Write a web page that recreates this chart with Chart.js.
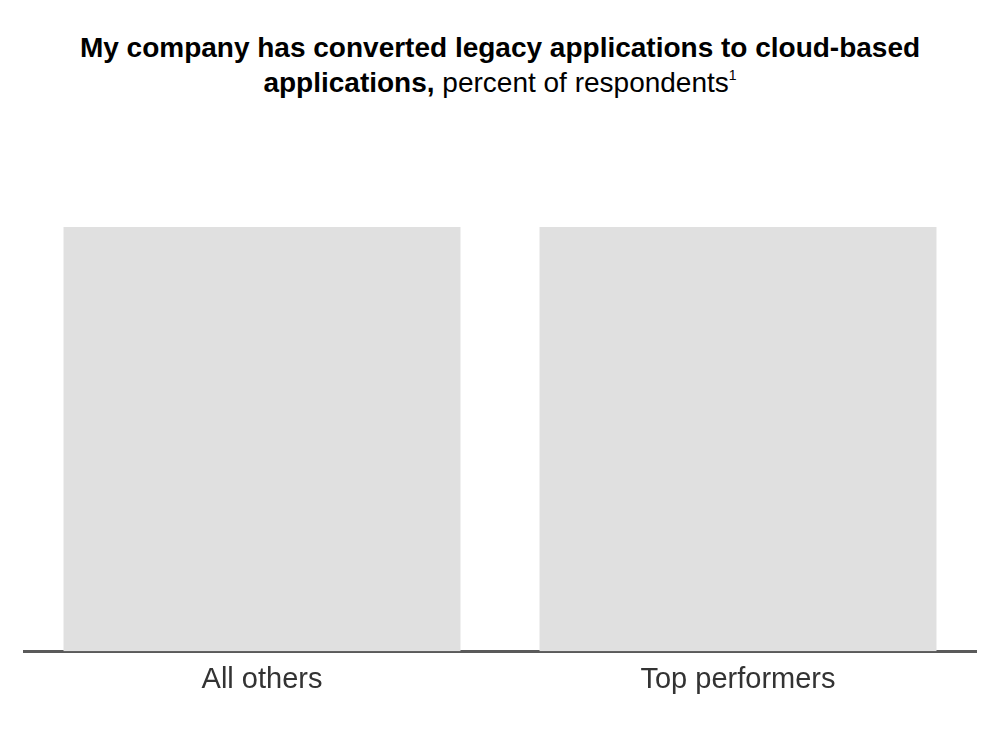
<!DOCTYPE html>
<html>
<head>
<meta charset="utf-8">
<script src="https://cdn.jsdelivr.net/npm/chart.js@4"></script>
<style>
  html, body { margin: 0; padding: 0; background: #fff; }
  #wrap { position: relative; width: 1000px; height: 750px; }
  #title {
    position: absolute; left: 0; top: 30px; width: 1000px;
    text-align: center; font-family: "Liberation Sans", Arial, sans-serif;
    font-size: 28px; line-height: 35px; color: #000;
  }
  #title b { font-weight: bold; }
  #title sup { font-size: 14px; vertical-align: 12px; line-height: 0; color: #000; }
  #chartBox { position: absolute; left: 0; top: 0; width: 1000px; height: 750px; }
</style>
</head>
<body>
<div id="wrap">
  <div id="title"><b>My company has converted legacy applications to cloud-based<br>applications,</b> percent of respondents<sup>1</sup></div>
  <div id="chartBox"><canvas id="chart"></canvas></div>
</div>
<script>
// Datos
const categories = ["All others", "Top performers"];
const respondents = [100, 100];

const chart = new Chart(document.getElementById("chart"), {
    type: 'bar',
    data: {
        labels: categories,
        datasets: [{
            data: respondents,
            backgroundColor: '#e0e0e0',
            borderWidth: 0,
            barPercentage: 1,
            categoryPercentage: 0.834
        }]
    },
    options: {
        responsive: true,
        maintainAspectRatio: false,
        animation: false,
        layout: { padding: { left: 24, right: 24, top: 227, bottom: 42 } },
        plugins: {
            legend: { display: false },
            tooltip: { enabled: false }
        },
        scales: {
            x: {
                grid: { display: false, drawTicks: false },
                border: { display: true, color: '#5a5a5a', width: 3 },
                ticks: {
                    padding: 11,
                    color: '#333',
                    font: { family: "'Liberation Sans', Arial, sans-serif", size: 29 }
                }
            },
            y: {
                display: false,
                min: 0,
                max: 100
            }
        }
    }
});
</script>
</body>
</html>
